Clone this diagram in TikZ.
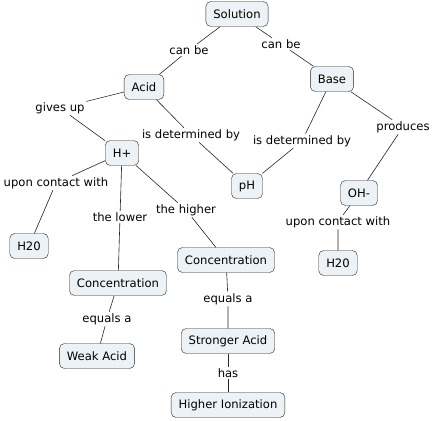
\documentclass[tikz,border=0pt]{standalone}
\usepackage{fontspec}
\setmainfont{DejaVu Sans}
\usepackage{tikz}
\definecolor{conceptfill}{RGB}{236,242,245}

\begin{document}
\begin{tikzpicture}[x=1pt,y=-1pt,
  concept/.style={draw=black!85,fill=conceptfill,rounded corners=5pt,inner xsep=7.5pt,minimum height=25pt,font=\fontsize{11.6}{14}\selectfont},
  link/.style={inner sep=1.5pt,font=\fontsize{11.6}{14}\selectfont},
  edge/.style={draw=black!85,line width=0.6pt}]
  \useasboundingbox (0,0) rectangle (438,420);
  \node [concept] (sol) at (237,14) {Solution};
  \node [concept] (acid) at (144,87) {Acid};
  \node [concept] (base) at (332,79) {Base};
  \node [concept] (h) at (122,153) {H+};
  \node [concept] (ph) at (247,186) {pH};
  \node [concept] (oh) at (359,193) {OH-};
  \node [concept] (wa) at (29,246) {H20};
  \node [concept] (wb) at (338,263) {H20};
  \node [concept] (conca) at (118,283) {Concentration};
  \node [concept] (concb) at (226,260) {Concentration};
  \node [concept] (weak) at (97,356) {Weak Acid};
  \node [concept] (strong) at (228,341) {Stronger Acid};
  \node [concept] (ion) at (228,405) {Higher Ionization};

  \node [link] (l1) at (189,50) {can be};
  \node [link] (l2) at (281,44) {can be};
  \node [link] (l3) at (60,108) {gives up};
  \node [link] (l4) at (191,135) {is determined by};
  \node [link] (l5) at (302,141) {is determined by};
  \node [link] (l6) at (403,127) {produces};
  \node [link] (l7) at (56,183) {upon contact with};
  \node [link] (l8) at (120,217) {the lower};
  \node [link] (l9) at (186,210) {the higher};
  \node [link] (l10) at (338,222) {upon contact with};
  \node [link] (l11) at (107,319) {equals a};
  \node [link] (l12) at (228,299) {equals a};
  \node [link] (l13) at (228,373) {has};

  \draw [edge] (sol) -- (l1) -- (acid);
  \draw [edge] (sol) -- (l2) -- (base);
  \draw [edge] (acid) -- (l3) -- (h);
  \draw [edge] (acid) -- (l4) -- (ph);
  \draw [edge] (base) -- (l5) -- (ph);
  \draw [edge] (base) -- (l6) -- (oh);
  \draw [edge] (h) -- (l7) -- (wa);
  \draw [edge] (h) -- (l8) -- (conca);
  \draw [edge] (h) -- (l9) -- (concb);
  \draw [edge] (oh) -- (l10) -- (wb);
  \draw [edge] (conca) -- (l11) -- (weak);
  \draw [edge] (concb) -- (l12) -- (strong);
  \draw [edge] (strong) -- (l13) -- (ion);
\end{tikzpicture}
\end{document}
